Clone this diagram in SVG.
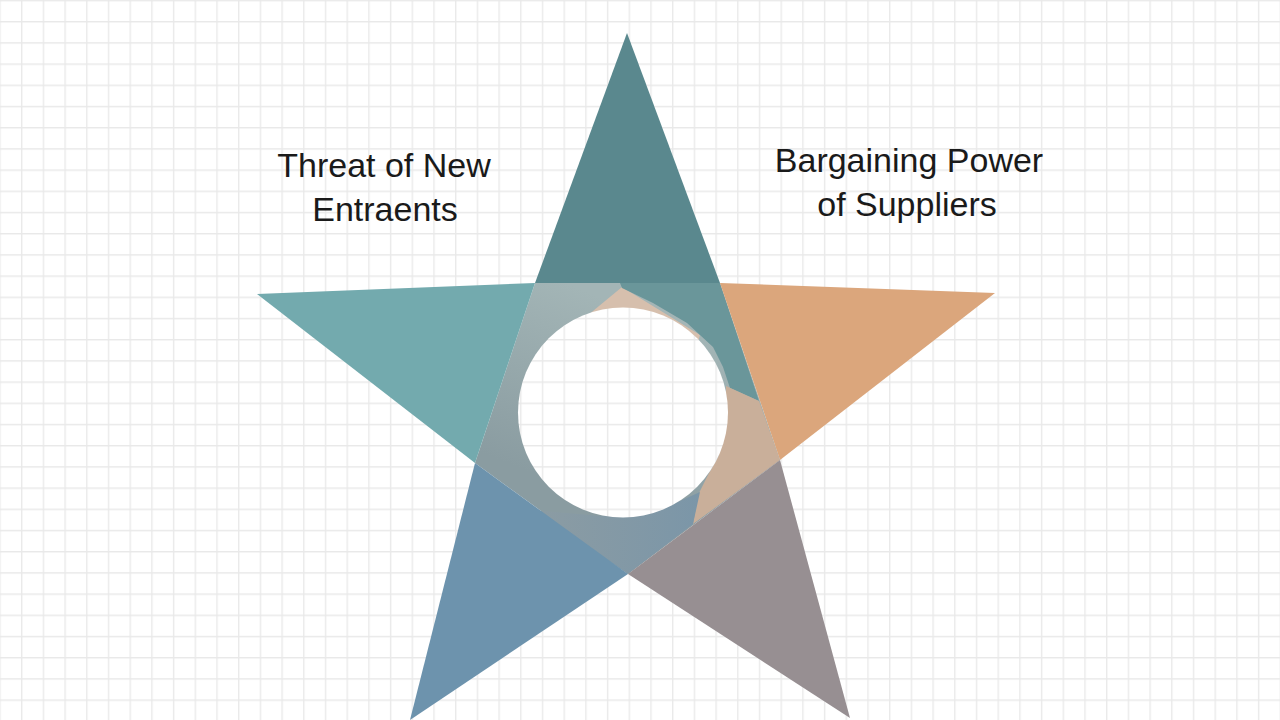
<svg xmlns="http://www.w3.org/2000/svg" width="1280" height="720" viewBox="0 0 1280 720">
  <defs>
    <pattern id="grid" patternUnits="userSpaceOnUse" x="-0.7" y="-0.2" width="21.7" height="21.2">
      <rect width="21.7" height="21.2" fill="#ffffff"/>
      <path d="M0.7 0 V21.2 M0 0.7 H21.7" stroke="#e9e9e9" stroke-width="1.3" fill="none"/>
    </pattern>
    <linearGradient id="coreGrad" gradientUnits="userSpaceOnUse" x1="570" y1="285" x2="500" y2="460">
      <stop offset="0" stop-color="#a3b5b6"/>
      <stop offset="1" stop-color="#8a9ca1"/>
    </linearGradient>
    <linearGradient id="bandGrad" gradientUnits="userSpaceOnUse" x1="533" y1="520" x2="700" y2="520">
      <stop offset="0" stop-color="#8c9ca3"/>
      <stop offset="1" stop-color="#7b96a8"/>
    </linearGradient>
    <style>
      .label { font-family: "Liberation Sans", Arial, sans-serif; font-size: 34px; fill: #1a1a1a; text-anchor: middle; }
    </style>
  </defs>

  <rect id="background" x="0" y="0" width="1280" height="720" fill="url(#grid)"/>

  <g id="star">
    <g id="core">
      <polygon points="535,283 720,283 780,460 628,574 475,463" fill="url(#coreGrad)"/>
      <polygon points="570,330 622,287 700,335 690,370" fill="#d6bfad"/>
    </g>
    <g id="arm-top">
      <polygon points="620,283 720,283 759,401 730,388 723,367 713,347 687,323 653,303 622,288" fill="#6a969a"/>
      <polygon points="627,33 535,283 720,283" fill="#5a888e"/>
    </g>
    <g id="arm-left">
      <polygon points="257,294 535,283 475,463" fill="#73aaae"/>
    </g>
    <g id="arm-right">
      <polygon points="995,293 720,283 780,460" fill="#dba67c"/>
      <polygon points="726,386 759,401 780,460 693,524 698,495 708,475 718,457 725,430" fill="#c9af9a"/>
    </g>
    <g id="band">
      <polygon points="533,510 600,516 660,510 700,492 693,524 628,574" fill="url(#bandGrad)"/>
    </g>
    <g id="arm-bottom-right">
      <polygon points="780,460 850,718 628,574" fill="#978f92"/>
    </g>
    <g id="arm-bottom-left">
      <polygon points="475,463 410,720 628,574" fill="#6d93ad"/>
    </g>
    <g id="center">
      <circle cx="623" cy="412.5" r="105" fill="url(#grid)"/>
    </g>
  </g>

  <g id="connectors"></g>

  <g id="label-new-entrants">
    <text class="label" x="384" y="177">Threat of New</text>
    <text class="label" x="385" y="221">Entraents</text>
  </g>
  <g id="label-suppliers">
    <text class="label" x="909" y="172">Bargaining Power</text>
    <text class="label" x="907" y="216">of Suppliers</text>
  </g>
</svg>
